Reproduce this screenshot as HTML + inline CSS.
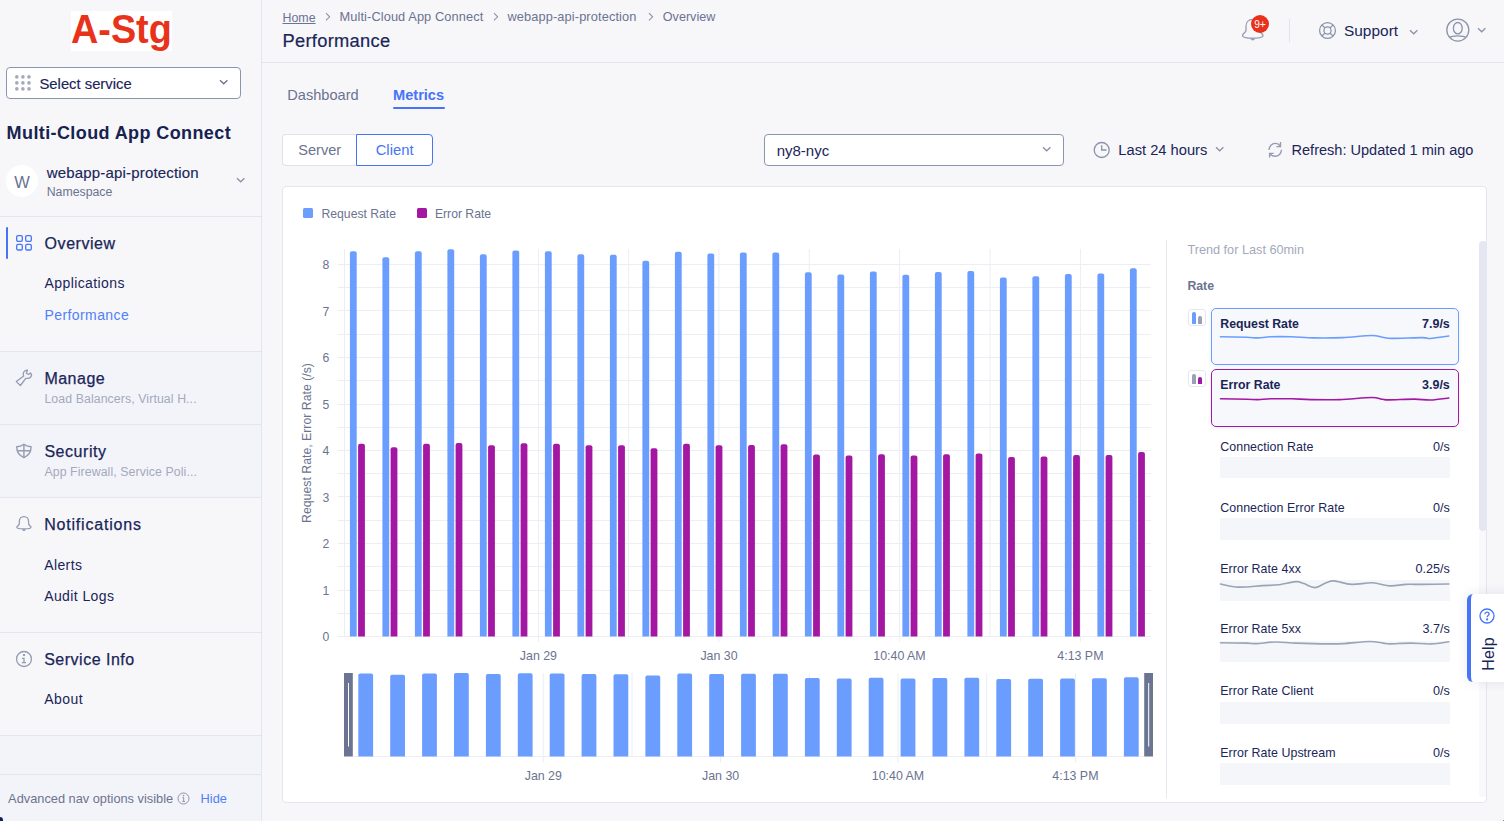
<!DOCTYPE html>
<html><head><meta charset="utf-8"><style>
html,body{margin:0;padding:0;}
body{width:1504px;height:821px;position:relative;overflow:hidden;background:#f6f7fa;font-family:"Liberation Sans",sans-serif;}
.t{position:absolute;white-space:nowrap;line-height:1;}
</style></head><body>
<div style="position:absolute;left:0px;top:0px;width:261px;height:821px;background:#f7f7fa;"></div>
<div style="position:absolute;left:0px;top:352px;width:261px;height:72px;background:#f3f4f9;"></div>
<div style="position:absolute;left:0px;top:425px;width:261px;height:72px;background:#f3f4f9;"></div>
<div style="position:absolute;left:0px;top:736px;width:261px;height:85px;background:#f3f4f9;"></div>
<div style="position:absolute;left:261px;top:0px;width:1px;height:821px;background:#e3e6ee;"></div>
<div style="position:absolute;left:0px;top:216px;width:261px;height:1px;background:#e3e6ee;"></div>
<div style="position:absolute;left:0px;top:351px;width:261px;height:1px;background:#e3e6ee;"></div>
<div style="position:absolute;left:0px;top:424px;width:261px;height:1px;background:#e3e6ee;"></div>
<div style="position:absolute;left:0px;top:497px;width:261px;height:1px;background:#e3e6ee;"></div>
<div style="position:absolute;left:0px;top:632px;width:261px;height:1px;background:#e3e6ee;"></div>
<div style="position:absolute;left:0px;top:735px;width:261px;height:1px;background:#e3e6ee;"></div>
<div style="position:absolute;left:0px;top:774px;width:261px;height:1px;background:#e3e6ee;"></div>
<div style="position:absolute;left:70.5px;top:11px;width:101px;height:40px;background:#fff;"></div>
<div class="t" style="left:71.00px;top:9.44px;font-size:40px;color:#e8331a;font-weight:700;transform:scaleX(0.945);transform-origin:0 0;">A-Stg</div>
<div style="position:absolute;left:6px;top:67px;width:233px;height:30px;background:#fff;border:1px solid #8c95b0;border-radius:4px;"></div>
<svg style="position:absolute;left:0;top:0" width="60" height="100"><circle cx="16.8" cy="76.9" r="1.8" fill="#a3a9be"/><circle cx="22.9" cy="76.9" r="1.8" fill="#a3a9be"/><circle cx="29.0" cy="76.9" r="1.8" fill="#a3a9be"/><circle cx="16.8" cy="82.9" r="1.8" fill="#a3a9be"/><circle cx="22.9" cy="82.9" r="1.8" fill="#a3a9be"/><circle cx="29.0" cy="82.9" r="1.8" fill="#a3a9be"/><circle cx="16.8" cy="88.9" r="1.8" fill="#a3a9be"/><circle cx="22.9" cy="88.9" r="1.8" fill="#a3a9be"/><circle cx="29.0" cy="88.9" r="1.8" fill="#a3a9be"/></svg>
<div class="t" style="left:39.50px;top:77.47px;font-size:14.8px;color:#1a2558;-webkit-text-stroke:0.15px #1a2558;">Select service</div>
<svg style="position:absolute;left:219px;top:79px" width="10" height="7"><path d="M1 1.2 L4.7 4.8 L8.4 1.2" fill="none" stroke="#6b7390" stroke-width="1.3"/></svg>
<div class="t" style="left:6.60px;top:124.46px;font-size:18px;color:#16224f;font-weight:700;letter-spacing:0.4px;">Multi-Cloud App Connect</div>
<div style="position:absolute;left:6px;top:164.7px;width:32px;height:32px;background:#fff;border-radius:50%;"></div>
<div class="t" style="left:22.00px;top:173.63px;font-size:16.5px;color:#6b7390;transform:translateX(-50%);">W</div>
<div class="t" style="left:46.70px;top:164.80px;font-size:15px;color:#1a2558;letter-spacing:0.18px;-webkit-text-stroke:0.15px #1a2558;">webapp-api-protection</div>
<div class="t" style="left:46.70px;top:185.99px;font-size:12.3px;color:#6b7390;">Namespace</div>
<svg style="position:absolute;left:236px;top:177px" width="10" height="7"><path d="M1 1.2 L4.7 4.8 L8.4 1.2" fill="none" stroke="#8a92aa" stroke-width="1.3"/></svg>
<div style="position:absolute;left:6px;top:227px;width:2px;height:32px;background:#4574f6;border-radius:1px;"></div>
<svg style="position:absolute;left:16px;top:235px" width="17" height="17" fill="none" stroke="#4574f6" stroke-width="1.3">
<rect x="0.7" y="0.7" width="5.6" height="5.6" rx="1.3"/><rect x="9.7" y="0.7" width="5.6" height="5.6" rx="1.3"/>
<rect x="0.7" y="9.4" width="5.6" height="5.6" rx="1.3"/><rect x="9.7" y="9.4" width="5.6" height="5.6" rx="1.3"/></svg>
<div class="t" style="left:44.60px;top:236.46px;font-size:16px;color:#1a2558;letter-spacing:0.55px;-webkit-text-stroke:0.25px #1a2558;">Overview</div>
<div class="t" style="left:44.60px;top:275.75px;font-size:14px;color:#1a2558;letter-spacing:0.4px;">Applications</div>
<div class="t" style="left:44.60px;top:307.75px;font-size:14px;color:#4f80f8;letter-spacing:0.4px;">Performance</div>
<svg style="position:absolute;left:12px;top:364px" width="24" height="26" fill="none" stroke="#959cb2" stroke-width="1.3" stroke-linejoin="round">
<path d="M4.3 17.6 L11.7 12 C10.6 10.2 11.4 7.6 13.3 6.6 C14 6.2 14.8 6.1 15.5 6.2 L14.4 9.2 C15 10 15.8 10.5 16.5 10.4 L18.4 8.9 C19.5 9.9 19.7 11.6 19 12.7 C18.2 13.9 17 14.4 15.8 14.3 L13.8 14.3 L8.4 21.5 Z"/></svg>
<div class="t" style="left:44.40px;top:371.06px;font-size:16px;color:#1a2558;letter-spacing:0.5px;-webkit-text-stroke:0.25px #1a2558;">Manage</div>
<div class="t" style="left:44.40px;top:393.29px;font-size:12.3px;color:#a3a9bd;letter-spacing:0.1px;">Load Balancers, Virtual H...</div>
<svg style="position:absolute;left:12px;top:438px" width="24" height="26" fill="none" stroke="#959cb2" stroke-width="1.4" stroke-linejoin="round">
<path d="M11.9 6.2 C10 7.6 7.5 8.6 4.7 8.8 C4.7 13.5 7 17.6 11.9 19.6 C16.8 17.6 19.1 13.5 19.1 8.8 C16.3 8.6 13.8 7.6 11.9 6.2 Z"/><path d="M11.9 6.2 L11.9 19.6 M5 12.8 L18.8 12.8"/></svg>
<div class="t" style="left:44.40px;top:443.96px;font-size:16px;color:#1a2558;letter-spacing:0.55px;-webkit-text-stroke:0.25px #1a2558;">Security</div>
<div class="t" style="left:44.40px;top:466.39px;font-size:12.3px;color:#a3a9bd;letter-spacing:0.1px;">App Firewall, Service Poli...</div>
<svg style="position:absolute;left:12px;top:511px" width="24" height="26" fill="none" stroke="#959cb2" stroke-width="1.3" stroke-linejoin="round">
<path d="M11.9 5.6 C9.2 5.6 7.3 7.6 7.3 10.5 L7.3 12.8 C7.3 14.3 4.8 15 4.8 16.3 C4.8 17.4 8 17.9 11.9 17.9 C15.8 17.9 19 17.4 19 16.3 C19 15 16.6 14.3 16.6 12.8 L16.6 10.5 C16.6 7.6 14.6 5.6 11.9 5.6 Z"/><path d="M10 18.3 C10.3 20.7 13.5 20.7 13.8 18.3 Z" fill="#959cb2" stroke="none"/></svg>
<div class="t" style="left:44.20px;top:517.46px;font-size:16px;color:#1a2558;letter-spacing:0.8px;-webkit-text-stroke:0.25px #1a2558;">Notifications</div>
<div class="t" style="left:44.20px;top:557.85px;font-size:14px;color:#1a2558;letter-spacing:0.4px;">Alerts</div>
<div class="t" style="left:44.20px;top:589.45px;font-size:14px;color:#1a2558;letter-spacing:0.4px;">Audit Logs</div>
<svg style="position:absolute;left:12px;top:646px" width="24" height="26" fill="none" stroke="#959cb2" stroke-width="1.3">
<circle cx="12" cy="13" r="7.5"/><path d="M10 12.4 L12 12.4 L12 16.6 M9.8 16.6 L14 16.6"/><rect x="11" y="8.1" width="2" height="1.9" fill="#959cb2" stroke="none"/></svg>
<div class="t" style="left:44.20px;top:652.16px;font-size:16px;color:#1a2558;letter-spacing:0.5px;-webkit-text-stroke:0.25px #1a2558;">Service Info</div>
<div class="t" style="left:44.20px;top:692.35px;font-size:14px;color:#1a2558;letter-spacing:0.45px;">About</div>
<div class="t" style="left:8.10px;top:793.46px;font-size:12.8px;color:#6b7390;">Advanced nav options visible</div>
<svg style="position:absolute;left:177px;top:792px" width="13" height="13" fill="none" stroke="#8c93aa" stroke-width="1">
<circle cx="6.5" cy="6.5" r="5.5"/><path d="M5.4 5.6 L6.7 5.6 L6.7 9.4 M5.3 9.4 L8 9.4"/><circle cx="6.6" cy="3.7" r="0.4" fill="#8c93aa"/></svg>
<div class="t" style="left:200.60px;top:793.46px;font-size:12.8px;color:#4f80f8;">Hide</div>
<div style="position:absolute;left:262px;top:0px;width:1242px;height:821px;background:#f7f7fa;"></div>
<div style="position:absolute;left:262px;top:62px;width:1242px;height:1px;background:#e3e6ee;"></div>
<div class="t" style="left:282.50px;top:11.60px;font-size:12.4px;color:#6b7390;text-decoration:underline;text-underline-offset:1px;">Home</div>
<svg style="position:absolute;left:324.5px;top:12px" width="7" height="10"><path d="M1 1.2 L4.6 4.8 L1 8.4" fill="none" stroke="#8c93aa" stroke-width="1.1"/></svg>
<div class="t" style="left:339.50px;top:11.26px;font-size:12.8px;color:#6b7390;letter-spacing:0.1px;">Multi-Cloud App Connect</div>
<svg style="position:absolute;left:492.5px;top:12px" width="7" height="10"><path d="M1 1.2 L4.6 4.8 L1 8.4" fill="none" stroke="#8c93aa" stroke-width="1.1"/></svg>
<div class="t" style="left:507.40px;top:11.26px;font-size:12.8px;color:#6b7390;letter-spacing:0.12px;">webapp-api-protection</div>
<svg style="position:absolute;left:647.8px;top:12px" width="7" height="10"><path d="M1 1.2 L4.6 4.8 L1 8.4" fill="none" stroke="#8c93aa" stroke-width="1.1"/></svg>
<div class="t" style="left:662.80px;top:11.43px;font-size:12.6px;color:#6b7390;">Overview</div>
<div class="t" style="left:282.50px;top:31.51px;font-size:18.3px;color:#1a2558;letter-spacing:0.3px;-webkit-text-stroke:0.2px #1a2558;">Performance</div>
<svg style="position:absolute;left:1240px;top:18px" width="26" height="26" fill="none" stroke="#959cb2" stroke-width="1.3" stroke-linejoin="round">
<path d="M12.7 1.4 C8.5 1.4 6 4.5 6 8.5 L6 12.5 C6 14.5 2.5 15.5 2.5 17.5 C2.5 19.5 8 20.2 12.7 20.2 C17.4 20.2 23 19.5 23 17.5 C23 15.5 19.4 14.5 19.4 12.5 L19.4 8.5 C19.4 4.5 16.9 1.4 12.7 1.4 Z"/><path d="M10.4 20.6 C10.7 23 14.7 23 15 20.6 Z" fill="#959cb2" stroke="none"/></svg>
<div style="position:absolute;left:1251px;top:15px;width:18px;height:18px;background:#e8301c;border-radius:50%;"></div>
<div class="t" style="left:1260.00px;top:19.67px;font-size:10.2px;color:#fff;transform:translateX(-50%);">9+</div>
<div style="position:absolute;left:1289px;top:19px;width:1px;height:23px;background:#e0e3ec;"></div>
<svg style="position:absolute;left:1318px;top:21.2px" width="19" height="19" fill="none" stroke="#8c93aa" stroke-width="1.3">
<circle cx="9.5" cy="9.5" r="7.9"/><circle cx="9.5" cy="9.5" r="3.6"/><path d="M4 4 L6.9 6.9 M15 4 L12.1 6.9 M4 15 L6.9 12.1 M15 15 L12.1 12.1"/></svg>
<div class="t" style="left:1343.90px;top:22.96px;font-size:15.4px;color:#1a2558;letter-spacing:0.05px;">Support</div>
<svg style="position:absolute;left:1408.5px;top:29px" width="10" height="7"><path d="M1 1.2 L4.7 4.8 L8.4 1.2" fill="none" stroke="#8a92aa" stroke-width="1.3"/></svg>
<svg style="position:absolute;left:1446px;top:18px" width="25" height="25" fill="none" stroke="#8c93aa" stroke-width="1.3">
<circle cx="11.8" cy="12.1" r="11"/><ellipse cx="11.8" cy="10.2" rx="4.4" ry="5.7"/><path d="M3.6 19.6 C6 17.2 17.6 17.2 20 19.6"/></svg>
<svg style="position:absolute;left:1477px;top:27px" width="10" height="7"><path d="M1 1.2 L4.7 4.8 L8.4 1.2" fill="none" stroke="#8a92aa" stroke-width="1.3"/></svg>
<div class="t" style="left:287.30px;top:88.14px;font-size:14.6px;color:#6b7390;">Dashboard</div>
<div class="t" style="left:393.00px;top:88.14px;font-size:14.6px;color:#4574f6;font-weight:700;">Metrics</div>
<div style="position:absolute;left:393px;top:107px;width:52px;height:2px;background:#4574f6;border-radius:1px;"></div>
<div style="position:absolute;left:282.3px;top:134px;width:74px;height:32px;background:#fff;border:1px solid #dfe2ea;border-right:none;border-radius:4px 0 0 4px;box-sizing:border-box;"></div>
<div style="position:absolute;left:356px;top:134px;width:76.5px;height:32px;background:#fff;border:1px solid #4574f6;border-radius:0 4px 4px 0;box-sizing:border-box;"></div>
<div class="t" style="left:298.20px;top:143.44px;font-size:14.6px;color:#6b7390;">Server</div>
<div class="t" style="left:375.70px;top:143.27px;font-size:14.8px;color:#4574f6;">Client</div>
<div style="position:absolute;left:764.2px;top:134.1px;width:299.5px;height:32px;background:#fff;border:1px solid #8c95b0;border-radius:4px;box-sizing:border-box;"></div>
<div class="t" style="left:776.70px;top:142.50px;font-size:15px;color:#1a2558;">ny8-nyc</div>
<svg style="position:absolute;left:1042px;top:146px" width="10" height="7"><path d="M1 1.2 L4.7 4.8 L8.4 1.2" fill="none" stroke="#8a92aa" stroke-width="1.3"/></svg>
<svg style="position:absolute;left:1092px;top:141px" width="18" height="18" fill="none" stroke="#8c93aa" stroke-width="1.3">
<circle cx="9.7" cy="9" r="7.5"/><path d="M9.7 4.3 L9.7 9 L14.5 9"/></svg>
<div class="t" style="left:1118.30px;top:142.96px;font-size:14.7px;color:#1a2558;">Last 24 hours</div>
<svg style="position:absolute;left:1215px;top:146px" width="10" height="7"><path d="M1 1.2 L4.7 4.8 L8.4 1.2" fill="none" stroke="#8a92aa" stroke-width="1.3"/></svg>
<svg style="position:absolute;left:1260px;top:136px" width="30" height="28" fill="none" stroke="#959cb2" stroke-width="1.4">
<path d="M8.9 14 C9.2 10 12 7.4 15 7.4 C17.3 7.4 19.2 8.5 20.3 10.2"/><path d="M20.5 6.1 L20.5 10.6 L16.4 10.6"/>
<path d="M21.5 13.7 C21.3 17.5 18.5 20.3 15.2 20.3 C12.9 20.3 11 19.3 9.8 17.6"/><path d="M13.7 17.4 L9.6 17.4 L9.6 21.5"/></svg>
<div class="t" style="left:1291.50px;top:143.08px;font-size:14.55px;color:#1a2558;">Refresh: Updated 1 min ago</div>
<div style="position:absolute;left:282.3px;top:186.1px;width:1204.3px;height:616.8px;background:#fff;border:1px solid #e3e6ef;border-radius:4px;box-sizing:border-box;"></div>
<div style="position:absolute;left:303.1px;top:208px;width:10px;height:10px;background:#6b9dff;border-radius:1.5px;"></div>
<div class="t" style="left:321.50px;top:207.87px;font-size:12.2px;color:#6b7390;">Request Rate</div>
<div style="position:absolute;left:416.8px;top:208px;width:10px;height:10px;background:#a417a3;border-radius:1.5px;"></div>
<div class="t" style="left:434.90px;top:207.87px;font-size:12.2px;color:#6b7390;">Error Rate</div>
<svg style="position:absolute;left:0;top:0" width="1504" height="821"><line x1="337.5" x2="1151" y1="636.5" y2="636.5" stroke="#eceef4" stroke-width="1"/><line x1="337.5" x2="1151" y1="613.5" y2="613.5" stroke="#eceef4" stroke-width="1"/><line x1="337.5" x2="1151" y1="590.5" y2="590.5" stroke="#eceef4" stroke-width="1"/><line x1="337.5" x2="1151" y1="566.5" y2="566.5" stroke="#eceef4" stroke-width="1"/><line x1="337.5" x2="1151" y1="543.5" y2="543.5" stroke="#eceef4" stroke-width="1"/><line x1="337.5" x2="1151" y1="520.5" y2="520.5" stroke="#eceef4" stroke-width="1"/><line x1="337.5" x2="1151" y1="496.5" y2="496.5" stroke="#eceef4" stroke-width="1"/><line x1="337.5" x2="1151" y1="473.5" y2="473.5" stroke="#eceef4" stroke-width="1"/><line x1="337.5" x2="1151" y1="450.5" y2="450.5" stroke="#eceef4" stroke-width="1"/><line x1="337.5" x2="1151" y1="427.5" y2="427.5" stroke="#eceef4" stroke-width="1"/><line x1="337.5" x2="1151" y1="404.5" y2="404.5" stroke="#eceef4" stroke-width="1"/><line x1="337.5" x2="1151" y1="380.5" y2="380.5" stroke="#eceef4" stroke-width="1"/><line x1="337.5" x2="1151" y1="357.5" y2="357.5" stroke="#eceef4" stroke-width="1"/><line x1="337.5" x2="1151" y1="334.5" y2="334.5" stroke="#eceef4" stroke-width="1"/><line x1="337.5" x2="1151" y1="310.5" y2="310.5" stroke="#eceef4" stroke-width="1"/><line x1="337.5" x2="1151" y1="287.5" y2="287.5" stroke="#eceef4" stroke-width="1"/><line x1="337.5" x2="1151" y1="264.5" y2="264.5" stroke="#eceef4" stroke-width="1"/><line x1="344.5" x2="344.5" y1="249" y2="636.5" stroke="#eceef4"/><line x1="538.4" x2="538.4" y1="249" y2="642" stroke="#eceef4"/><line x1="628.6" x2="628.6" y1="249" y2="636.5" stroke="#eceef4"/><line x1="718.9" x2="718.9" y1="249" y2="642" stroke="#eceef4"/><line x1="809.2" x2="809.2" y1="249" y2="636.5" stroke="#eceef4"/><line x1="899.6" x2="899.6" y1="249" y2="642" stroke="#eceef4"/><line x1="990.0" x2="990.0" y1="249" y2="636.5" stroke="#eceef4"/><line x1="1080.4" x2="1080.4" y1="249" y2="642" stroke="#eceef4"/><path d="M349.90 636.5 L349.90 253.20 Q349.90 251.20 351.90 251.20 L354.70 251.20 Q356.70 251.20 356.70 253.20 L356.70 636.5 Z" fill="#6b9dff"/><path d="M358.10 636.5 L358.10 445.80 Q358.10 443.80 360.10 443.80 L362.90 443.80 Q364.90 443.80 364.90 445.80 L364.90 636.5 Z" fill="#a417a3"/><path d="M382.40 636.5 L382.40 259.30 Q382.40 257.30 384.40 257.30 L387.20 257.30 Q389.20 257.30 389.20 259.30 L389.20 636.5 Z" fill="#6b9dff"/><path d="M390.60 636.5 L390.60 449.30 Q390.60 447.30 392.60 447.30 L395.40 447.30 Q397.40 447.30 397.40 449.30 L397.40 636.5 Z" fill="#a417a3"/><path d="M414.90 636.5 L414.90 253.20 Q414.90 251.20 416.90 251.20 L419.70 251.20 Q421.70 251.20 421.70 253.20 L421.70 636.5 Z" fill="#6b9dff"/><path d="M423.10 636.5 L423.10 445.80 Q423.10 443.80 425.10 443.80 L427.90 443.80 Q429.90 443.80 429.90 445.80 L429.90 636.5 Z" fill="#a417a3"/><path d="M447.40 636.5 L447.40 251.20 Q447.40 249.20 449.40 249.20 L452.20 249.20 Q454.20 249.20 454.20 251.20 L454.20 636.5 Z" fill="#6b9dff"/><path d="M455.60 636.5 L455.60 445.00 Q455.60 443.00 457.60 443.00 L460.40 443.00 Q462.40 443.00 462.40 445.00 L462.40 636.5 Z" fill="#a417a3"/><path d="M479.90 636.5 L479.90 256.20 Q479.90 254.20 481.90 254.20 L484.70 254.20 Q486.70 254.20 486.70 256.20 L486.70 636.5 Z" fill="#6b9dff"/><path d="M488.10 636.5 L488.10 447.20 Q488.10 445.20 490.10 445.20 L492.90 445.20 Q494.90 445.20 494.90 447.20 L494.90 636.5 Z" fill="#a417a3"/><path d="M512.40 636.5 L512.40 252.40 Q512.40 250.40 514.40 250.40 L517.20 250.40 Q519.20 250.40 519.20 252.40 L519.20 636.5 Z" fill="#6b9dff"/><path d="M520.60 636.5 L520.60 445.30 Q520.60 443.30 522.60 443.30 L525.40 443.30 Q527.40 443.30 527.40 445.30 L527.40 636.5 Z" fill="#a417a3"/><path d="M544.90 636.5 L544.90 253.20 Q544.90 251.20 546.90 251.20 L549.70 251.20 Q551.70 251.20 551.70 253.20 L551.70 636.5 Z" fill="#6b9dff"/><path d="M553.10 636.5 L553.10 445.80 Q553.10 443.80 555.10 443.80 L557.90 443.80 Q559.90 443.80 559.90 445.80 L559.90 636.5 Z" fill="#a417a3"/><path d="M577.40 636.5 L577.40 256.20 Q577.40 254.20 579.40 254.20 L582.20 254.20 Q584.20 254.20 584.20 256.20 L584.20 636.5 Z" fill="#6b9dff"/><path d="M585.60 636.5 L585.60 447.20 Q585.60 445.20 587.60 445.20 L590.40 445.20 Q592.40 445.20 592.40 447.20 L592.40 636.5 Z" fill="#a417a3"/><path d="M609.90 636.5 L609.90 256.70 Q609.90 254.70 611.90 254.70 L614.70 254.70 Q616.70 254.70 616.70 256.70 L616.70 636.5 Z" fill="#6b9dff"/><path d="M618.10 636.5 L618.10 447.20 Q618.10 445.20 620.10 445.20 L622.90 445.20 Q624.90 445.20 624.90 447.20 L624.90 636.5 Z" fill="#a417a3"/><path d="M642.40 636.5 L642.40 262.70 Q642.40 260.70 644.40 260.70 L647.20 260.70 Q649.20 260.70 649.20 262.70 L649.20 636.5 Z" fill="#6b9dff"/><path d="M650.60 636.5 L650.60 450.30 Q650.60 448.30 652.60 448.30 L655.40 448.30 Q657.40 448.30 657.40 450.30 L657.40 636.5 Z" fill="#a417a3"/><path d="M674.90 636.5 L674.90 253.80 Q674.90 251.80 676.90 251.80 L679.70 251.80 Q681.70 251.80 681.70 253.80 L681.70 636.5 Z" fill="#6b9dff"/><path d="M683.10 636.5 L683.10 445.80 Q683.10 443.80 685.10 443.80 L687.90 443.80 Q689.90 443.80 689.90 445.80 L689.90 636.5 Z" fill="#a417a3"/><path d="M707.40 636.5 L707.40 255.50 Q707.40 253.50 709.40 253.50 L712.20 253.50 Q714.20 253.50 714.20 255.50 L714.20 636.5 Z" fill="#6b9dff"/><path d="M715.60 636.5 L715.60 447.20 Q715.60 445.20 717.60 445.20 L720.40 445.20 Q722.40 445.20 722.40 447.20 L722.40 636.5 Z" fill="#a417a3"/><path d="M739.90 636.5 L739.90 254.60 Q739.90 252.60 741.90 252.60 L744.70 252.60 Q746.70 252.60 746.70 254.60 L746.70 636.5 Z" fill="#6b9dff"/><path d="M748.10 636.5 L748.10 446.90 Q748.10 444.90 750.10 444.90 L752.90 444.90 Q754.90 444.90 754.90 446.90 L754.90 636.5 Z" fill="#a417a3"/><path d="M772.40 636.5 L772.40 254.60 Q772.40 252.60 774.40 252.60 L777.20 252.60 Q779.20 252.60 779.20 254.60 L779.20 636.5 Z" fill="#6b9dff"/><path d="M780.60 636.5 L780.60 446.20 Q780.60 444.20 782.60 444.20 L785.40 444.20 Q787.40 444.20 787.40 446.20 L787.40 636.5 Z" fill="#a417a3"/><path d="M804.90 636.5 L804.90 274.30 Q804.90 272.30 806.90 272.30 L809.70 272.30 Q811.70 272.30 811.70 274.30 L811.70 636.5 Z" fill="#6b9dff"/><path d="M813.10 636.5 L813.10 456.50 Q813.10 454.50 815.10 454.50 L817.90 454.50 Q819.90 454.50 819.90 456.50 L819.90 636.5 Z" fill="#a417a3"/><path d="M837.40 636.5 L837.40 276.60 Q837.40 274.60 839.40 274.60 L842.20 274.60 Q844.20 274.60 844.20 276.60 L844.20 636.5 Z" fill="#6b9dff"/><path d="M845.60 636.5 L845.60 457.50 Q845.60 455.50 847.60 455.50 L850.40 455.50 Q852.40 455.50 852.40 457.50 L852.40 636.5 Z" fill="#a417a3"/><path d="M869.90 636.5 L869.90 273.50 Q869.90 271.50 871.90 271.50 L874.70 271.50 Q876.70 271.50 876.70 273.50 L876.70 636.5 Z" fill="#6b9dff"/><path d="M878.10 636.5 L878.10 456.30 Q878.10 454.30 880.10 454.30 L882.90 454.30 Q884.90 454.30 884.90 456.30 L884.90 636.5 Z" fill="#a417a3"/><path d="M902.40 636.5 L902.40 276.70 Q902.40 274.70 904.40 274.70 L907.20 274.70 Q909.20 274.70 909.20 276.70 L909.20 636.5 Z" fill="#6b9dff"/><path d="M910.60 636.5 L910.60 457.50 Q910.60 455.50 912.60 455.50 L915.40 455.50 Q917.40 455.50 917.40 457.50 L917.40 636.5 Z" fill="#a417a3"/><path d="M934.90 636.5 L934.90 273.90 Q934.90 271.90 936.90 271.90 L939.70 271.90 Q941.70 271.90 941.70 273.90 L941.70 636.5 Z" fill="#6b9dff"/><path d="M943.10 636.5 L943.10 456.30 Q943.10 454.30 945.10 454.30 L947.90 454.30 Q949.90 454.30 949.90 456.30 L949.90 636.5 Z" fill="#a417a3"/><path d="M967.40 636.5 L967.40 273.10 Q967.40 271.10 969.40 271.10 L972.20 271.10 Q974.20 271.10 974.20 273.10 L974.20 636.5 Z" fill="#6b9dff"/><path d="M975.60 636.5 L975.60 455.40 Q975.60 453.40 977.60 453.40 L980.40 453.40 Q982.40 453.40 982.40 455.40 L982.40 636.5 Z" fill="#a417a3"/><path d="M999.90 636.5 L999.90 279.40 Q999.90 277.40 1001.90 277.40 L1004.70 277.40 Q1006.70 277.40 1006.70 279.40 L1006.70 636.5 Z" fill="#6b9dff"/><path d="M1008.10 636.5 L1008.10 459.00 Q1008.10 457.00 1010.10 457.00 L1012.90 457.00 Q1014.90 457.00 1014.90 459.00 L1014.90 636.5 Z" fill="#a417a3"/><path d="M1032.40 636.5 L1032.40 278.20 Q1032.40 276.20 1034.40 276.20 L1037.20 276.20 Q1039.20 276.20 1039.20 278.20 L1039.20 636.5 Z" fill="#6b9dff"/><path d="M1040.60 636.5 L1040.60 458.40 Q1040.60 456.40 1042.60 456.40 L1045.40 456.40 Q1047.40 456.40 1047.40 458.40 L1047.40 636.5 Z" fill="#a417a3"/><path d="M1064.90 636.5 L1064.90 276.00 Q1064.90 274.00 1066.90 274.00 L1069.70 274.00 Q1071.70 274.00 1071.70 276.00 L1071.70 636.5 Z" fill="#6b9dff"/><path d="M1073.10 636.5 L1073.10 457.10 Q1073.10 455.10 1075.10 455.10 L1077.90 455.10 Q1079.90 455.10 1079.90 457.10 L1079.90 636.5 Z" fill="#a417a3"/><path d="M1097.40 636.5 L1097.40 275.60 Q1097.40 273.60 1099.40 273.60 L1102.20 273.60 Q1104.20 273.60 1104.20 275.60 L1104.20 636.5 Z" fill="#6b9dff"/><path d="M1105.60 636.5 L1105.60 457.10 Q1105.60 455.10 1107.60 455.10 L1110.40 455.10 Q1112.40 455.10 1112.40 457.10 L1112.40 636.5 Z" fill="#a417a3"/><path d="M1129.90 636.5 L1129.90 270.30 Q1129.90 268.30 1131.90 268.30 L1134.70 268.30 Q1136.70 268.30 1136.70 270.30 L1136.70 636.5 Z" fill="#6b9dff"/><path d="M1138.10 636.5 L1138.10 454.10 Q1138.10 452.10 1140.10 452.10 L1142.90 452.10 Q1144.90 452.10 1144.90 454.10 L1144.90 636.5 Z" fill="#a417a3"/><line x1="543.3" x2="543.3" y1="673" y2="762.5" stroke="#eceef4"/><line x1="632.0" x2="632.0" y1="673" y2="756.5" stroke="#eceef4"/><line x1="720.6" x2="720.6" y1="673" y2="762.5" stroke="#eceef4"/><line x1="809.3" x2="809.3" y1="673" y2="756.5" stroke="#eceef4"/><line x1="898.0" x2="898.0" y1="673" y2="762.5" stroke="#eceef4"/><line x1="986.7" x2="986.7" y1="673" y2="756.5" stroke="#eceef4"/><line x1="1075.4" x2="1075.4" y1="673" y2="762.5" stroke="#eceef4"/><line x1="353" x2="1144" y1="756.5" y2="756.5" stroke="#eceef4"/><path d="M358.30 756.5 L358.30 675.27 Q358.30 673.47 360.10 673.47 L371.30 673.47 Q373.10 673.47 373.10 675.27 L373.10 756.5 Z" fill="#6b9dff"/><path d="M390.20 756.5 L390.20 676.59 Q390.20 674.79 392.00 674.79 L403.20 674.79 Q405.00 674.79 405.00 676.59 L405.00 756.5 Z" fill="#6b9dff"/><path d="M422.10 756.5 L422.10 675.27 Q422.10 673.47 423.90 673.47 L435.10 673.47 Q436.90 673.47 436.90 675.27 L436.90 756.5 Z" fill="#6b9dff"/><path d="M454.00 756.5 L454.00 674.84 Q454.00 673.04 455.80 673.04 L467.00 673.04 Q468.80 673.04 468.80 674.84 L468.80 756.5 Z" fill="#6b9dff"/><path d="M485.90 756.5 L485.90 675.92 Q485.90 674.12 487.70 674.12 L498.90 674.12 Q500.70 674.12 500.70 675.92 L500.70 756.5 Z" fill="#6b9dff"/><path d="M517.80 756.5 L517.80 675.10 Q517.80 673.30 519.60 673.30 L530.80 673.30 Q532.60 673.30 532.60 675.10 L532.60 756.5 Z" fill="#6b9dff"/><path d="M549.70 756.5 L549.70 675.27 Q549.70 673.47 551.50 673.47 L562.70 673.47 Q564.50 673.47 564.50 675.27 L564.50 756.5 Z" fill="#6b9dff"/><path d="M581.60 756.5 L581.60 675.92 Q581.60 674.12 583.40 674.12 L594.60 674.12 Q596.40 674.12 596.40 675.92 L596.40 756.5 Z" fill="#6b9dff"/><path d="M613.50 756.5 L613.50 676.03 Q613.50 674.23 615.30 674.23 L626.50 674.23 Q628.30 674.23 628.30 676.03 L628.30 756.5 Z" fill="#6b9dff"/><path d="M645.40 756.5 L645.40 677.32 Q645.40 675.52 647.20 675.52 L658.40 675.52 Q660.20 675.52 660.20 677.32 L660.20 756.5 Z" fill="#6b9dff"/><path d="M677.30 756.5 L677.30 675.40 Q677.30 673.60 679.10 673.60 L690.30 673.60 Q692.10 673.60 692.10 675.40 L692.10 756.5 Z" fill="#6b9dff"/><path d="M709.20 756.5 L709.20 675.77 Q709.20 673.97 711.00 673.97 L722.20 673.97 Q724.00 673.97 724.00 675.77 L724.00 756.5 Z" fill="#6b9dff"/><path d="M741.10 756.5 L741.10 675.58 Q741.10 673.78 742.90 673.78 L754.10 673.78 Q755.90 673.78 755.90 675.58 L755.90 756.5 Z" fill="#6b9dff"/><path d="M773.00 756.5 L773.00 675.58 Q773.00 673.78 774.80 673.78 L786.00 673.78 Q787.80 673.78 787.80 675.58 L787.80 756.5 Z" fill="#6b9dff"/><path d="M804.90 756.5 L804.90 679.82 Q804.90 678.02 806.70 678.02 L817.90 678.02 Q819.70 678.02 819.70 679.82 L819.70 756.5 Z" fill="#6b9dff"/><path d="M836.80 756.5 L836.80 680.32 Q836.80 678.52 838.60 678.52 L849.80 678.52 Q851.60 678.52 851.60 680.32 L851.60 756.5 Z" fill="#6b9dff"/><path d="M868.70 756.5 L868.70 679.65 Q868.70 677.85 870.50 677.85 L881.70 677.85 Q883.50 677.85 883.50 679.65 L883.50 756.5 Z" fill="#6b9dff"/><path d="M900.60 756.5 L900.60 680.34 Q900.60 678.54 902.40 678.54 L913.60 678.54 Q915.40 678.54 915.40 680.34 L915.40 756.5 Z" fill="#6b9dff"/><path d="M932.50 756.5 L932.50 679.73 Q932.50 677.93 934.30 677.93 L945.50 677.93 Q947.30 677.93 947.30 679.73 L947.30 756.5 Z" fill="#6b9dff"/><path d="M964.40 756.5 L964.40 679.56 Q964.40 677.76 966.20 677.76 L977.40 677.76 Q979.20 677.76 979.20 679.56 L979.20 756.5 Z" fill="#6b9dff"/><path d="M996.30 756.5 L996.30 680.92 Q996.30 679.12 998.10 679.12 L1009.30 679.12 Q1011.10 679.12 1011.10 680.92 L1011.10 756.5 Z" fill="#6b9dff"/><path d="M1028.20 756.5 L1028.20 680.66 Q1028.20 678.86 1030.00 678.86 L1041.20 678.86 Q1043.00 678.86 1043.00 680.66 L1043.00 756.5 Z" fill="#6b9dff"/><path d="M1060.10 756.5 L1060.10 680.19 Q1060.10 678.39 1061.90 678.39 L1073.10 678.39 Q1074.90 678.39 1074.90 680.19 L1074.90 756.5 Z" fill="#6b9dff"/><path d="M1092.00 756.5 L1092.00 680.10 Q1092.00 678.30 1093.80 678.30 L1105.00 678.30 Q1106.80 678.30 1106.80 680.10 L1106.80 756.5 Z" fill="#6b9dff"/><path d="M1123.90 756.5 L1123.90 678.96 Q1123.90 677.16 1125.70 677.16 L1136.90 677.16 Q1138.70 677.16 1138.70 678.96 L1138.70 756.5 Z" fill="#6b9dff"/><rect x="344" y="673" width="8.8" height="83.5" fill="#6b7593"/><line x1="348.5" x2="348.5" y1="683" y2="746.5" stroke="#fff" stroke-width="1"/><rect x="1144.2" y="673" width="8.8" height="83.5" fill="#6b7593"/><line x1="1148.7" x2="1148.7" y1="683" y2="746.5" stroke="#fff" stroke-width="1"/></svg>
<div class="t" style="left:326.00px;top:631.37px;font-size:12.2px;color:#6b7390;transform:translateX(-50%);">0</div>
<div class="t" style="left:326.00px;top:584.87px;font-size:12.2px;color:#6b7390;transform:translateX(-50%);">1</div>
<div class="t" style="left:326.00px;top:538.37px;font-size:12.2px;color:#6b7390;transform:translateX(-50%);">2</div>
<div class="t" style="left:326.00px;top:491.87px;font-size:12.2px;color:#6b7390;transform:translateX(-50%);">3</div>
<div class="t" style="left:326.00px;top:445.37px;font-size:12.2px;color:#6b7390;transform:translateX(-50%);">4</div>
<div class="t" style="left:326.00px;top:398.87px;font-size:12.2px;color:#6b7390;transform:translateX(-50%);">5</div>
<div class="t" style="left:326.00px;top:352.37px;font-size:12.2px;color:#6b7390;transform:translateX(-50%);">6</div>
<div class="t" style="left:326.00px;top:305.87px;font-size:12.2px;color:#6b7390;transform:translateX(-50%);">7</div>
<div class="t" style="left:326.00px;top:259.37px;font-size:12.2px;color:#6b7390;transform:translateX(-50%);">8</div>
<div class="t" style="left:307.2px;top:443px;font-size:12.3px;color:#6b7390;transform:translate(-50%,-50%) rotate(-90deg);">Request Rate, Error Rate (/s)</div>
<div class="t" style="left:538.40px;top:650.10px;font-size:12.4px;color:#6b7390;transform:translateX(-50%);">Jan 29</div>
<div class="t" style="left:719.00px;top:650.10px;font-size:12.4px;color:#6b7390;transform:translateX(-50%);">Jan 30</div>
<div class="t" style="left:899.50px;top:650.10px;font-size:12.4px;color:#6b7390;transform:translateX(-50%);">10:40 AM</div>
<div class="t" style="left:1080.40px;top:650.10px;font-size:12.4px;color:#6b7390;transform:translateX(-50%);">4:13 PM</div>
<div class="t" style="left:543.30px;top:770.30px;font-size:12.4px;color:#6b7390;transform:translateX(-50%);">Jan 29</div>
<div class="t" style="left:720.60px;top:770.30px;font-size:12.4px;color:#6b7390;transform:translateX(-50%);">Jan 30</div>
<div class="t" style="left:898.00px;top:770.30px;font-size:12.4px;color:#6b7390;transform:translateX(-50%);">10:40 AM</div>
<div class="t" style="left:1075.40px;top:770.30px;font-size:12.4px;color:#6b7390;transform:translateX(-50%);">4:13 PM</div>
<div style="position:absolute;left:1166px;top:240px;width:1px;height:558px;background:#e6e8ef;"></div>
<div style="position:absolute;left:1479px;top:531px;width:6.6px;height:266px;background:#f9f9fb;"></div>
<div style="position:absolute;left:1479px;top:241px;width:7.5px;height:290px;background:#e4e6f1;border-radius:4px;"></div>
<div class="t" style="left:1187.40px;top:243.95px;font-size:12.7px;color:#a3a9bd;">Trend for Last 60min</div>
<div class="t" style="left:1187.40px;top:279.99px;font-size:12.3px;color:#6b7390;font-weight:700;">Rate</div>
<div style="position:absolute;left:1188.3px;top:309.2px;width:17.4px;height:17px;box-sizing:border-box;border:1px solid #e6e8ef;border-radius:3px;background:#fff;"></div>
<div style="position:absolute;left:1192px;top:311.9px;width:3.8px;height:11.7px;background:#6b9dff;border-radius:1.8px 1.8px 0.5px 0.5px"></div>
<div style="position:absolute;left:1198px;top:315.59999999999997px;width:3.9px;height:8px;background:#9aa1b5;border-radius:1.8px 1.8px 0.5px 0.5px"></div>
<div style="position:absolute;left:1188.3px;top:370.2px;width:17.4px;height:17px;box-sizing:border-box;border:1px solid #e6e8ef;border-radius:3px;background:#fff;"></div>
<div style="position:absolute;left:1192px;top:373.9px;width:3.8px;height:10.4px;background:#9aa1b5;border-radius:1.8px 1.8px 0.5px 0.5px"></div>
<div style="position:absolute;left:1198px;top:377.09999999999997px;width:3.9px;height:7.2px;background:#a417a3;border-radius:1.8px 1.8px 0.5px 0.5px"></div>
<div style="position:absolute;left:1211.1px;top:308.2px;width:247.8px;height:57px;background:#f7f8fb;border:1px solid #6b9dff;border-radius:5px;box-sizing:border-box;box-shadow:0 1px 4px rgba(40,50,90,0.08);"></div>
<div class="t" style="left:1220.30px;top:317.99px;font-size:12.3px;color:#1a2558;font-weight:700;">Request Rate</div>
<div class="t" style="right:54.20px;top:317.82px;font-size:12.5px;color:#1a2558;font-weight:700;">7.9/s</div>
<div style="position:absolute;left:1211.1px;top:369.4px;width:247.8px;height:57.6px;background:#f7f8fb;border:1px solid #a417a3;border-radius:5px;box-sizing:border-box;box-shadow:0 1px 4px rgba(40,50,90,0.08);"></div>
<div class="t" style="left:1220.30px;top:379.19px;font-size:12.3px;color:#1a2558;font-weight:700;">Error Rate</div>
<div class="t" style="right:54.20px;top:379.02px;font-size:12.5px;color:#1a2558;font-weight:700;">3.9/s</div>
<svg style="position:absolute;left:0;top:0;overflow:visible" width="1" height="1"><path d="M1220.50 336.80 C1224.89 336.88 1240.58 337.12 1246.84 337.30 C1253.09 337.48 1254.09 337.98 1258.06 337.90 C1262.03 337.82 1265.08 336.98 1270.65 336.80 C1276.22 336.62 1284.28 336.62 1291.49 336.80 C1298.70 336.98 1305.42 337.77 1313.93 337.90 C1322.44 338.03 1332.98 338.00 1342.56 337.60 C1352.14 337.20 1364.73 335.55 1371.41 335.50 C1378.09 335.45 1379.20 336.82 1382.63 337.30 C1386.07 337.78 1385.38 338.35 1392.02 338.40 C1398.66 338.45 1416.07 337.58 1422.48 337.60 C1428.89 337.62 1426.10 338.77 1430.49 338.50 C1434.88 338.23 1445.76 336.42 1448.81 336.00" fill="none" stroke="#6b9dff" stroke-width="1.6" stroke-linecap="round"/></svg>
<svg style="position:absolute;left:0;top:0;overflow:visible" width="1" height="1"><path d="M1220.50 398.80 C1224.89 398.88 1240.58 399.17 1246.84 399.30 C1253.09 399.43 1254.09 399.68 1258.06 399.60 C1262.03 399.52 1265.08 398.93 1270.65 398.80 C1276.22 398.67 1284.81 398.67 1291.49 398.80 C1298.17 398.93 1302.71 399.47 1310.73 399.60 C1318.74 399.73 1329.47 399.95 1339.58 399.60 C1349.69 399.25 1364.24 397.55 1371.41 397.50 C1378.59 397.45 1379.66 398.90 1382.63 399.30 C1385.61 399.70 1383.93 399.93 1389.27 399.90 C1394.62 399.87 1407.82 399.08 1414.69 399.10 C1421.56 399.12 1424.81 400.18 1430.49 400.00 C1436.18 399.82 1445.76 398.33 1448.81 398.00" fill="none" stroke="#a417a3" stroke-width="1.6" stroke-linecap="round"/></svg>
<div class="t" style="left:1220.30px;top:441.40px;font-size:12.4px;color:#1a2558;letter-spacing:0.05px;">Connection Rate</div>
<div class="t" style="right:54.20px;top:441.23px;font-size:12.6px;color:#1a2558;">0/s</div>
<div style="position:absolute;left:1220.3px;top:456.9px;width:229.5px;height:21.5px;background:#f5f6f9;"></div>
<div class="t" style="left:1220.30px;top:502.10px;font-size:12.4px;color:#1a2558;letter-spacing:0.05px;">Connection Error Rate</div>
<div class="t" style="right:54.20px;top:501.93px;font-size:12.6px;color:#1a2558;">0/s</div>
<div style="position:absolute;left:1220.3px;top:518.2px;width:229.5px;height:21.5px;background:#f5f6f9;"></div>
<div class="t" style="left:1220.30px;top:563.10px;font-size:12.4px;color:#1a2558;letter-spacing:0.05px;">Error Rate 4xx</div>
<div class="t" style="right:54.20px;top:562.93px;font-size:12.6px;color:#1a2558;">0.25/s</div>
<div style="position:absolute;left:1220.3px;top:579.5px;width:229.5px;height:21.5px;background:#f5f6f9;"></div>
<div class="t" style="left:1220.30px;top:623.20px;font-size:12.4px;color:#1a2558;letter-spacing:0.05px;">Error Rate 5xx</div>
<div class="t" style="right:54.20px;top:623.03px;font-size:12.6px;color:#1a2558;">3.7/s</div>
<div style="position:absolute;left:1220.3px;top:640.8px;width:229.5px;height:21.5px;background:#f5f6f9;"></div>
<div class="t" style="left:1220.30px;top:684.90px;font-size:12.4px;color:#1a2558;letter-spacing:0.05px;">Error Rate Client</div>
<div class="t" style="right:54.20px;top:684.73px;font-size:12.6px;color:#1a2558;">0/s</div>
<div style="position:absolute;left:1220.3px;top:702.1px;width:229.5px;height:21.5px;background:#f5f6f9;"></div>
<div class="t" style="left:1220.30px;top:746.70px;font-size:12.4px;color:#1a2558;letter-spacing:0.05px;">Error Rate Upstream</div>
<div class="t" style="right:54.20px;top:746.53px;font-size:12.6px;color:#1a2558;">0/s</div>
<div style="position:absolute;left:1220.3px;top:763.4px;width:229.5px;height:21.5px;background:#f5f6f9;"></div>
<svg style="position:absolute;left:0;top:0;overflow:visible" width="1" height="1"><path d="M1220.50 584.00 C1223.48 584.52 1231.38 586.83 1238.36 587.10 C1245.35 587.37 1255.77 585.98 1262.41 585.60 C1269.05 585.22 1272.64 585.47 1278.21 584.80 C1283.78 584.13 1291.57 581.80 1295.84 581.60 C1300.12 581.40 1300.69 582.60 1303.86 583.60 C1307.02 584.60 1311.15 587.73 1314.85 587.60 C1318.55 587.47 1322.86 583.92 1326.07 582.80 C1329.28 581.68 1329.81 580.63 1334.08 580.90 C1338.36 581.17 1345.34 584.08 1351.72 584.40 C1358.09 584.72 1365.95 582.55 1372.33 582.80 C1378.70 583.05 1384.35 585.63 1389.96 585.90 C1395.57 586.17 1400.65 584.65 1405.99 584.40 C1411.33 584.15 1414.88 584.47 1422.02 584.40 C1429.16 584.33 1444.35 584.07 1448.81 584.00" fill="none" stroke="#9aa3b8" stroke-width="1.6" stroke-linecap="round"/></svg>
<svg style="position:absolute;left:0;top:0;overflow:visible" width="1" height="1"><path d="M1220.50 642.80 C1224.89 642.85 1240.84 642.97 1246.84 643.10 C1252.83 643.23 1251.68 643.78 1256.45 643.60 C1261.22 643.42 1268.86 642.08 1275.46 642.00 C1282.06 641.92 1287.29 642.78 1296.07 643.10 C1304.85 643.42 1320.12 643.82 1328.13 643.90 C1336.15 643.98 1337.29 644.00 1344.16 643.60 C1351.03 643.20 1362.86 641.58 1369.35 641.50 C1375.84 641.42 1379.65 642.70 1383.09 643.10 C1386.52 643.50 1385.38 643.90 1389.96 643.90 C1394.54 643.90 1403.70 643.10 1410.57 643.10 C1417.44 643.10 1424.81 644.13 1431.18 643.90 C1437.55 643.67 1445.87 642.07 1448.81 641.70" fill="none" stroke="#9aa3b8" stroke-width="1.6" stroke-linecap="round"/></svg>
<div style="position:absolute;left:1467px;top:594px;width:50px;height:88px;background:#fff;border-left:4px solid #4574f6;border-radius:6px;box-sizing:border-box;box-shadow:0 0 12px rgba(40,50,90,0.10);"></div>
<svg style="position:absolute;left:1479px;top:607.5px" width="16" height="16" fill="none" stroke="#4574f6" stroke-width="1.3"><circle cx="8" cy="8" r="7"/><path d="M5.9 6.2 C5.9 4.8 6.9 4.1 8 4.1 C9.2 4.1 10.1 4.9 10.1 6 C10.1 7.4 8.1 7.6 8.1 9.3"/><circle cx="8.1" cy="11.4" r="0.5" fill="#4574f6"/></svg>
<div class="t" style="left:1488px;top:653.8px;font-size:16.2px;color:#1a2558;transform:translate(-50%,-50%) rotate(-90deg);">Help</div>
<div style="position:absolute;left:-3px;top:817px;width:6px;height:6px;border-radius:50%;background:#14205a;"></div>
<div style="position:absolute;left:1502.5px;top:819.5px;width:4px;height:4px;border-radius:1px;background:#5a6488;"></div>
</body></html>
